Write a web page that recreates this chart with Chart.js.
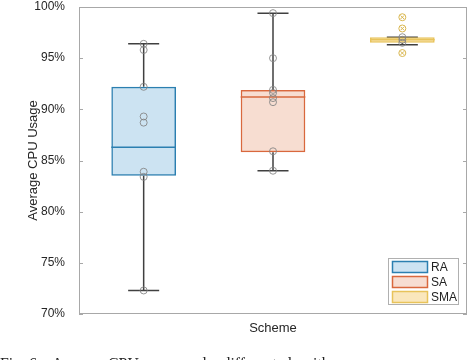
<!DOCTYPE html>
<html>
<head>
<meta charset="utf-8">
<script src="https://cdn.jsdelivr.net/npm/chart.js@4"></script>
<style>
  body { margin: 0; width: 474px; height: 360px; overflow: hidden; background: #fff; position: relative; }
  #wrap { position: absolute; left: 0; top: 0; width: 474px; height: 360px; }
  #caption { position: absolute; left: 0; top: 355px; font: 15.8px "Liberation Serif", serif; color: #222; white-space: pre; }
</style>
</head>
<body>
<div id="wrap"><canvas id="cpu-chart"></canvas></div>
<div id="caption">Fig. 6.   Average CPU usage under different algorithms</div>
<script>
// box plot summary per scheme
const categories = ['RA', 'SA', 'SMA'];
const whiskerLow = [72.3, 84.0, 96.3];
const q1 = [83.5, 85.8, 96.5];
const median = [86.3, 91.2, 96.8];
const q3 = [92.2, 91.9, 97.05];
const whiskerHigh = [96.4, 99.4, 97.05];

// raw samples drawn as circles
const raPoints = [96.4, 95.8, 92.2, 89.3, 88.7, 83.9, 83.4, 72.3];
const saPoints = [99.4, 95.0, 91.9, 91.6, 91.1, 90.7, 85.9, 84.0];
const smaPoints = [97.05, 96.8, 96.5];
const smaOutliers = [99.0, 97.9, 95.5];

const yTicks = [70, 75, 80, 85, 90, 95, 100];

const fills = ['rgba(0,114,189,0.2)', 'rgba(217,83,25,0.2)', 'rgba(237,177,32,0.3)'];
const borders = ['#2b7fb0', '#d9683d', '#e8c35a'];
const axisGrey = '#a8a8a8';

const ctx = document.getElementById('cpu-chart').getContext('2d');

const boxDatasets = categories.map((name, i) => ({
    type: 'bar',
    label: name,
    data: categories.map((c, j) => j === i ? [q1[i], q3[i]] : null),
    backgroundColor: fills[i],
    borderColor: borders[i],
    borderWidth: 1.5,
    borderSkipped: false,
    grouped: false,
    barPercentage: 0.5,
    categoryPercentage: 1,
    order: 2
}));

const toPts = (name, arr) => arr.map(v => ({x: name, y: v}));

const pointDatasets = [
    {type: 'scatter', label: 'pts', data: toPts('RA', raPoints).concat(toPts('SA', saPoints), toPts('SMA', smaPoints)),
     pointStyle: 'circle', pointRadius: 3.5, borderColor: 'rgba(130,130,130,0.85)', backgroundColor: 'rgba(0,0,0,0)', borderWidth: 1, order: 0},
    {type: 'scatter', label: 'out', data: toPts('SMA', smaOutliers),
     pointStyle: 'circle', pointRadius: 3.5, borderColor: '#d9b64e', backgroundColor: 'rgba(0,0,0,0)', borderWidth: 1, order: 0},
    {type: 'scatter', label: 'outx', data: toPts('SMA', smaOutliers),
     pointStyle: 'crossRot', pointRadius: 2.5, borderColor: '#d9b64e', borderWidth: 1, order: 0}
];

const boxPlot = {
    id: 'boxPlot',
    beforeDatasetsDraw(chart) {
        const {ctx, scales: {x, y}} = chart;
        ctx.save();
        ctx.strokeStyle = '#404040';
        ctx.lineWidth = 1.5;
        categories.forEach((c, i) => {
            const px = x.getPixelForValue(i);
            const cap = x.width / categories.length * 0.24;
            ctx.beginPath();
            ctx.moveTo(px, y.getPixelForValue(whiskerLow[i]));
            ctx.lineTo(px, y.getPixelForValue(q1[i]));
            ctx.moveTo(px, y.getPixelForValue(q3[i]));
            ctx.lineTo(px, y.getPixelForValue(whiskerHigh[i]));
            ctx.moveTo(px - cap / 2, y.getPixelForValue(whiskerLow[i]));
            ctx.lineTo(px + cap / 2, y.getPixelForValue(whiskerLow[i]));
            ctx.moveTo(px - cap / 2, y.getPixelForValue(whiskerHigh[i]));
            ctx.lineTo(px + cap / 2, y.getPixelForValue(whiskerHigh[i]));
            ctx.stroke();
        });
        ctx.restore();
    },
    afterDatasetDraw(chart, args) {
        if (args.index >= categories.length) return;
        const i = args.index;
        const {ctx, scales: {y}} = chart;
        const bar = args.meta.data[i];
        const my = y.getPixelForValue(median[i]);
        ctx.save();
        ctx.strokeStyle = borders[i];
        ctx.lineWidth = 1.5;
        ctx.beginPath();
        ctx.moveTo(bar.x - bar.width / 2, my);
        ctx.lineTo(bar.x + bar.width / 2, my);
        ctx.stroke();
        ctx.restore();
    },
    afterDraw(chart) {
        const {ctx, chartArea: a, scales: {y}} = chart;
        ctx.save();
        // frame and inward ticks
        ctx.strokeStyle = axisGrey;
        ctx.lineWidth = 1;
        ctx.strokeRect(a.left + 0.5, a.top + 0.5, a.right - a.left - 1, a.bottom - a.top - 1);
        ctx.beginPath();
        yTicks.forEach(t => {
            const py = Math.round(y.getPixelForValue(t)) + 0.5;
            ctx.moveTo(a.left, py); ctx.lineTo(a.left + 4, py);
            ctx.moveTo(a.right, py); ctx.lineTo(a.right - 4, py);
        });
        ctx.stroke();

        // legend in the lower right corner
        const lw = 70, lh = 46;
        const lx = a.right - 9 - lw, ly = a.bottom - 10 - lh;
        ctx.fillStyle = '#fff';
        ctx.fillRect(lx, ly, lw, lh);
        ctx.strokeStyle = '#b0b0b0';
        ctx.strokeRect(lx + 0.5, ly + 0.5, lw, lh);
        ctx.font = '12px "Liberation Sans", Arial, sans-serif';
        ctx.textBaseline = 'middle';
        categories.forEach((c, i) => {
            const cy = ly + 9 + i * 15;
            ctx.fillStyle = '#fff';
            ctx.fillRect(lx + 4, cy - 6, 36, 12);
            ctx.fillStyle = fills[i];
            ctx.fillRect(lx + 4, cy - 6, 36, 12);
            ctx.strokeStyle = borders[i];
            ctx.lineWidth = 1.5;
            ctx.strokeRect(lx + 4.5, cy - 5.5, 35, 11);
            ctx.fillStyle = '#222';
            ctx.fillText(c, lx + 43, cy + 1);
        });
        ctx.restore();
    }
};

new Chart(ctx, {
    data: {
        labels: categories,
        datasets: boxDatasets.concat(pointDatasets)
    },
    options: {
        responsive: true,
        maintainAspectRatio: false,
        animation: false,
        layout: {padding: {top: 7, right: 7, left: 0, bottom: 0}},
        plugins: {legend: {display: false}, tooltip: {enabled: false}},
        scales: {
            x: {
                type: 'category',
                offset: true,
                grid: {display: false},
                border: {display: false},
                ticks: {display: false},
                title: {display: true, text: 'Scheme', color: '#262626',
                        font: {family: '"Liberation Sans", Arial, sans-serif', size: 13},
                        padding: {top: 0, bottom: 24}},
                afterFit(scale) { scale.height = 46; }
            },
            y: {
                min: 70,
                max: 100,
                grid: {display: false},
                border: {display: false},
                ticks: {stepSize: 5, color: '#262626', padding: 6,
                        font: {family: '"Liberation Sans", Arial, sans-serif', size: 12},
                        callback: v => v + '%'},
                title: {display: true, text: 'Average CPU Usage', color: '#262626',
                        font: {family: '"Liberation Sans", Arial, sans-serif', size: 13},
                        padding: {top: 26, bottom: 0}},
                afterFit(scale) {
                    scale.width = 79;
                    scale.paddingTop = 0;
                    scale.paddingBottom = 0;
                }
            }
        }
    },
    plugins: [boxPlot]
});
</script>
</body>
</html>
